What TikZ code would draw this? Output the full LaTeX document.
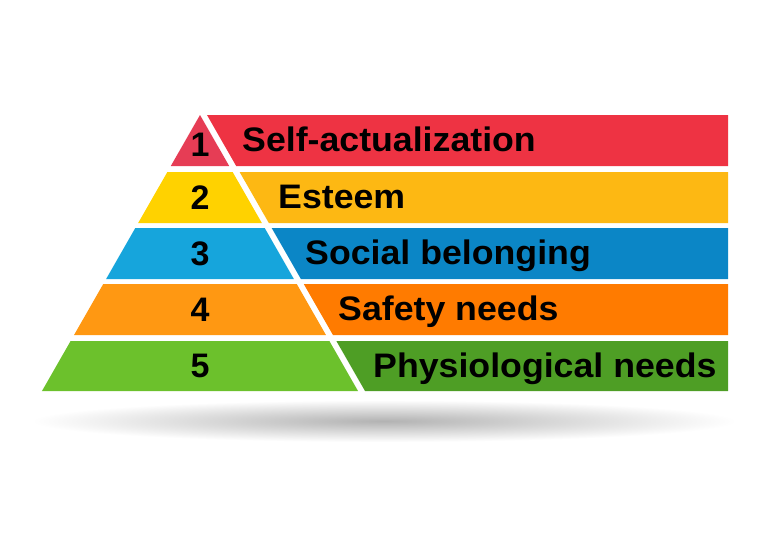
\documentclass[tikz,border=0pt]{standalone}
\usepackage{fontspec}
\setmainfont{Liberation Sans}
\definecolor{lred}{HTML}{E63D55}
\definecolor{rred}{HTML}{EE3343}
\definecolor{lyel}{HTML}{FFD200}
\definecolor{ryel}{HTML}{FDB813}
\definecolor{lblu}{HTML}{16A5DC}
\definecolor{rblu}{HTML}{0B86C6}
\definecolor{lora}{HTML}{FF9812}
\definecolor{rora}{HTML}{FF7B00}
\definecolor{lgre}{HTML}{6CC12C}
\definecolor{rgre}{HTML}{4E9E25}
\begin{document}
\begin{tikzpicture}[x=1pt,y=-1pt,
  numlbl/.style={font=\fontsize{34}{36}\selectfont\bfseries, text=black, inner sep=0pt},
  bandlbl/.style={font=\fontsize{34}{36}\selectfont\bfseries, text=black, inner sep=0pt, anchor=base west, xscale=1.05}]
\useasboundingbox (0,0) rectangle (768,541);
\fill[white] (0,0) rectangle (768,541);
% shadow
\shade[inner color=black!30, outer color=white] (384,421) ellipse [x radius=352, y radius=21];
% rows
\foreach \t/\b/\cl/\cr/\n/\txt/\tx/\dy in {
  115/166/lred/rred/1/Self-actualization/242/4,
  172/223/lyel/ryel/2/Esteem/278/0,
  228/279/lblu/rblu/3/Social belonging/305/0,
  284/335/lora/rora/4/Safety needs/338/0,
  341/391/lgre/rgre/5/Physiological needs/373/0}{
  \pgfmathsetmacro{\xLt}{200-0.5725*(\t-115)}
  \pgfmathsetmacro{\xRt}{200+0.5725*(\t-115)}
  \pgfmathsetmacro{\xLb}{200-0.5725*(\b-115)}
  \pgfmathsetmacro{\xRb}{200+0.5725*(\b-115)}
  \pgfmathsetmacro{\xRtt}{\xRt+7}
  \pgfmathsetmacro{\xRbb}{\xRb+7}
  \pgfmathsetmacro{\yc}{(\t+\b)/2}
  \pgfmathsetmacro{\yn}{\yc+\dy}
  \pgfmathsetmacro{\yb}{\yc+11}
  \fill[\cl] (\xLt,\t) -- (\xRt,\t) -- (\xRb,\b) -- (\xLb,\b) -- cycle;
  \fill[\cr] (\xRtt,\t) -- (728,\t) -- (728,\b) -- (\xRbb,\b) -- cycle;
  \node[numlbl] (n\n) at (200,\yn) {\n};
  \node[bandlbl] (l\n) at (\tx,\yb) {\txt};
}
\end{tikzpicture}
\end{document}
